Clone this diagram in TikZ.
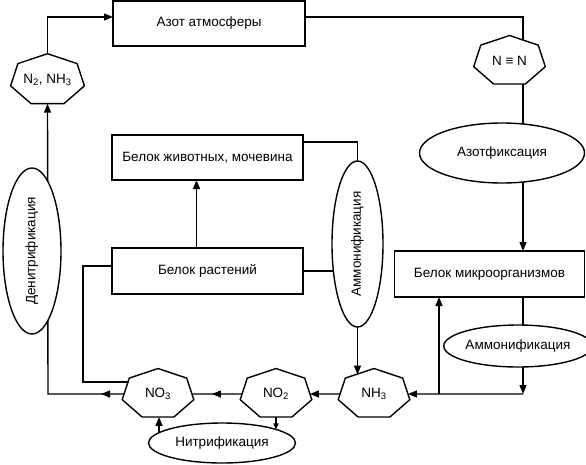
\documentclass[tikz,border=0pt]{standalone}
\usepackage{fontspec}
\setmainfont{Liberation Sans}
\usetikzlibrary{shapes.geometric,arrows.meta,calc,decorations.markings}
\pgfdeclarelayer{bg}
\pgfsetlayers{bg,main}
\begin{document}
\begin{tikzpicture}[x=1pt,y=-1pt,
  every node/.style={font=\fontsize{13.5}{15}\selectfont, line width=1.4pt, outer sep=0pt},
  box/.style={draw, fill=white, rectangle, inner sep=0pt},
  oval/.style={draw, fill=white, ellipse, inner sep=0pt},
  hept/.style={draw, fill=white, regular polygon, regular polygon sides=7,
    minimum size=51pt, inner sep=0pt, xscale=1.44, transform shape},
  link/.style={line width=1.4pt},
  arr/.style={link, -{Triangle[length=9pt,width=7pt]}},
  arrsmall/.style={link, -{Triangle[length=6pt,width=5pt]}},
  midarr/.style={postaction={decorate}, decoration={markings,
    mark=at position #1 with {\arrow{Triangle[length=9pt,width=7pt]}}}}
]
\useasboundingbox (0,0) rectangle (586,464);

% boxes
\node[box, minimum width=192pt, minimum height=45pt] (atm) at (209,23.5) {Азот атмосферы};
\node[box, minimum width=191pt, minimum height=45pt] (bz) at (207.5,157.5) {Белок животных, мочевина};
\node[box, minimum width=191pt, minimum height=46pt] (br) at (207.5,271) {Белок растений};
\node[box, minimum width=190pt, minimum height=46pt] (bm) at (489.5,274) {Белок микроорганизмов};

% ovals
\node[oval, minimum width=165pt, minimum height=60pt] (af) at (502,153) {Азотфиксация};
\node[oval, minimum width=133pt, minimum height=42pt] (am2) at (518,346) {Аммонификация};
\node[oval, minimum width=51pt, minimum height=166pt] (am1) at (357.5,244) {\rotatebox{90}{Аммонификация}};
\node[oval, minimum width=147pt, minimum height=40pt] (nitr) at (222,443) {Нитрификация};
\node[oval, minimum width=58pt, minimum height=166pt] (den) at (32,251) {\rotatebox{90}{Денитрификация}};

% heptagons
\node[hept] (n2) at (47.5,80) {\scalebox{0.694}[1]{N\textsubscript{2}, NH\textsubscript{3}}};
\node[hept] (nn) at (509.5,61) {\scalebox{0.694}[1]{N ≡ N}};
\node[hept] (no3) at (158,394) {\scalebox{0.694}[1]{NO\textsubscript{3}}};
\node[hept] (no2) at (276,394) {\scalebox{0.694}[1]{NO\textsubscript{2}}};
\node[hept] (nh3) at (374,394) {\scalebox{0.694}[1]{NH\textsubscript{3}}};

\coordinate (xR) at (523,17);
\coordinate (xJ) at (439,394);
\coordinate (cL) at (48,394);
\coordinate (xL) at (83,382);
\coordinate (xN) at (159,443);

\begin{pgfonlayer}{bg}
\draw[arr] (n2.north) |- ([yshift=6.5pt]atm.west);
\draw[link] ([yshift=6.5pt]atm.east) -- (xR) -- (xR |- af.center);
\draw[arr] (xR |- af.center) -- (xR |- bm.north);
\draw[link] (xR |- bm.center) -- (xR |- am2.center);
\draw[arr] (xR |- am2.center) -- (xR |- nh3.center);
\draw[arr] (xR |- nh3.center) -- (nh3.east);
\draw[arr] (xJ) -- (xJ |- bm.south);
\draw[arr] (nh3.west) -- (no2.east);
\draw[link, midarr=0.6] (no2.west) -- (no3.east);
\draw[arr, midarr=23pt] (no3.west) -- (cL) -- (n2.south);
\draw[link] ([yshift=5pt]br.west) -| (xL) -- (xL -| no3.center);
\draw[arr] ([xshift=-11pt]br.north) -- ([xshift=-11pt]bz.south);
\draw[link] ([yshift=15.5pt]bz.east) -| (am1.north);
\draw[link] (br.east) -- (br.east -| am1.center);
\draw[arr] (am1.south) -- ([yshift=-6pt]am1.south |- nh3.north);
\draw[arr] (xN) -- (xN |- no3.south);
\draw[arrsmall] (no2.south) -- (no2.south |- nitr.14);
\end{pgfonlayer}
\end{tikzpicture}
\end{document}
